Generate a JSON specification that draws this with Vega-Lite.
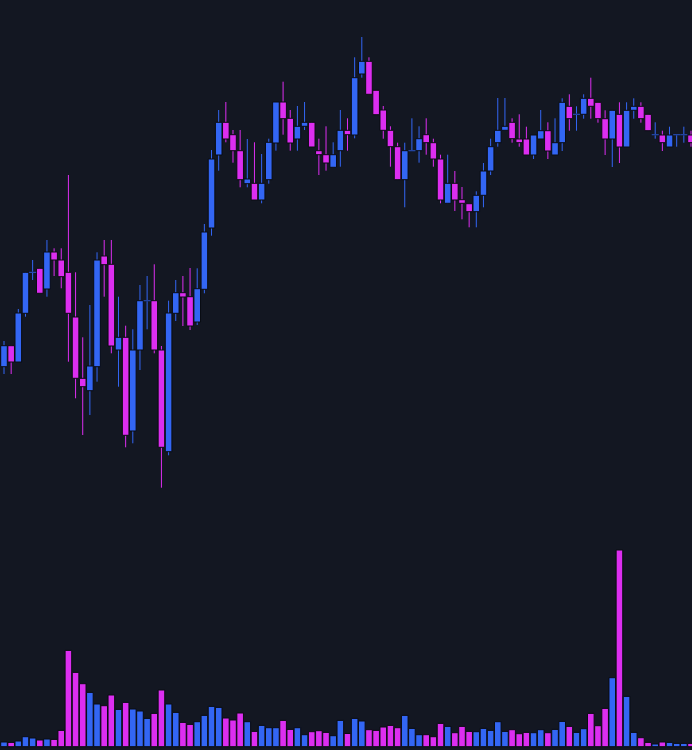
{
  "$schema": "https://vega.github.io/schema/vega-lite/v6.json",
  "width": 692,
  "height": 750,
  "padding": 0,
  "autosize": {"type": "none"},
  "background": "#131722",
  "config": {"view": {"stroke": null}},
  "data": {"values": [
    {"i":0,"o":63.33,"h":65.9,"l":62.6,"c":65.43,"v":235},
    {"i":1,"o":65.43,"h":65.43,"l":62.6,"c":63.8,"v":215},
    {"i":2,"o":63.8,"h":69.1,"l":63.8,"c":68.7,"v":285},
    {"i":3,"o":68.67,"h":72.8,"l":68.33,"c":72.77,"v":500},
    {"i":4,"o":72.77,"h":74,"l":72,"c":72.77,"v":435},
    {"i":5,"o":73.17,"h":73.2,"l":70.67,"c":70.67,"v":335},
    {"i":6,"o":71.1,"h":76,"l":70.33,"c":74.8,"v":385},
    {"i":7,"o":74.8,"h":75.17,"l":72.4,"c":74,"v":365},
    {"i":8,"o":74,"h":75.17,"l":71.17,"c":72.33,"v":815},
    {"i":9,"o":72.77,"h":82.5,"l":63.83,"c":68.67,"v":4815},
    {"i":10,"o":68.3,"h":72.77,"l":60.17,"c":62.17,"v":3715},
    {"i":11,"o":62.17,"h":66.27,"l":56.5,"c":61.33,"v":3150},
    {"i":12,"o":60.93,"h":69.5,"l":58.5,"c":63.4,"v":2715},
    {"i":13,"o":63.33,"h":74.77,"l":61.83,"c":74,"v":2135},
    {"i":14,"o":74.4,"h":76,"l":70.33,"c":73.53,"v":2050},
    {"i":15,"o":73.57,"h":76,"l":64.67,"c":65.4,"v":2585},
    {"i":16,"o":65,"h":70.33,"l":61.33,"c":66.27,"v":1865},
    {"i":17,"o":66.27,"h":67.43,"l":55.27,"c":56.47,"v":2215},
    {"i":18,"o":56.9,"h":67.07,"l":55.67,"c":65,"v":1885},
    {"i":19,"o":65,"h":71.5,"l":63,"c":69.93,"v":1785},
    {"i":20,"o":69.93,"h":72.4,"l":67.07,"c":69.93,"v":1415},
    {"i":21,"o":69.93,"h":73.57,"l":64.67,"c":65,"v":1665},
    {"i":22,"o":65,"h":65.4,"l":51.23,"c":55.27,"v":2835},
    {"i":23,"o":54.83,"h":69.93,"l":54.47,"c":68.7,"v":2135},
    {"i":24,"o":68.67,"h":72,"l":67.9,"c":70.73,"v":1715},
    {"i":25,"o":70.73,"h":72.4,"l":67.4,"c":70.3,"v":1215},
    {"i":26,"o":70.33,"h":73.2,"l":67,"c":67.4,"v":1115},
    {"i":27,"o":67.8,"h":73.17,"l":67.5,"c":71.13,"v":1250},
    {"i":28,"o":71.07,"h":77.6,"l":70.67,"c":76.8,"v":1565},
    {"i":29,"o":77.2,"h":85,"l":76.43,"c":84.1,"v":2015},
    {"i":30,"o":84.5,"h":89,"l":82.93,"c":87.77,"v":1965},
    {"i":31,"o":87.77,"h":89.8,"l":85.77,"c":86.1,"v":1435},
    {"i":32,"o":86.53,"h":87,"l":83.73,"c":84.93,"v":1335},
    {"i":33,"o":84.93,"h":87,"l":81.27,"c":82.03,"v":1685},
    {"i":34,"o":81.63,"h":86.1,"l":81.27,"c":82.1,"v":1250},
    {"i":35,"o":81.67,"h":85.77,"l":80,"c":80,"v":765},
    {"i":36,"o":80,"h":84.6,"l":79.67,"c":81.67,"v":1065},
    {"i":37,"o":82.03,"h":86.13,"l":81.63,"c":85.77,"v":950},
    {"i":38,"o":85.7,"h":89.8,"l":84.93,"c":89.8,"v":950},
    {"i":39,"o":89.8,"h":91.83,"l":86.53,"c":88.13,"v":1315},
    {"i":40,"o":88.17,"h":89,"l":84.93,"c":85.7,"v":865},
    {"i":41,"o":86.1,"h":89.4,"l":84.93,"c":87.37,"v":950},
    {"i":42,"o":87.37,"h":89.8,"l":87,"c":87.77,"v":600},
    {"i":43,"o":87.77,"h":87.77,"l":85.3,"c":85.3,"v":750},
    {"i":44,"o":84.93,"h":86.13,"l":82.5,"c":84.53,"v":800},
    {"i":45,"o":84.53,"h":87.37,"l":82.93,"c":83.7,"v":715},
    {"i":46,"o":83.27,"h":85.77,"l":83.27,"c":84.53,"v":550},
    {"i":47,"o":84.93,"h":89,"l":83.33,"c":86.97,"v":1315},
    {"i":48,"o":86.97,"h":88.17,"l":84.93,"c":86.53,"v":660},
    {"i":49,"o":86.5,"h":94.27,"l":86.17,"c":92.23,"v":1415},
    {"i":50,"o":92.6,"h":96.3,"l":92.23,"c":93.87,"v":1285},
    {"i":51,"o":93.87,"h":94.27,"l":90.57,"c":90.57,"v":850},
    {"i":52,"o":90.97,"h":90.97,"l":88.53,"c":88.53,"v":815},
    {"i":53,"o":89,"h":89.4,"l":86.13,"c":86.97,"v":985},
    {"i":54,"o":86.97,"h":87.37,"l":83.33,"c":85.33,"v":1065},
    {"i":55,"o":85.33,"h":85.73,"l":82.03,"c":82.03,"v":950},
    {"i":56,"o":82.03,"h":85.73,"l":79.27,"c":84.93,"v":1565},
    {"i":57,"o":84.93,"h":88.17,"l":84.93,"c":84.93,"v":915},
    {"i":58,"o":84.93,"h":87.37,"l":83.73,"c":86.13,"v":600},
    {"i":59,"o":86.53,"h":88.17,"l":84.53,"c":85.73,"v":600},
    {"i":60,"o":85.73,"h":86.13,"l":83.33,"c":84.1,"v":500},
    {"i":61,"o":84.1,"h":84.53,"l":79.67,"c":80,"v":1165},
    {"i":62,"o":79.67,"h":84.53,"l":79.67,"c":81.67,"v":1015},
    {"i":63,"o":81.67,"h":82.9,"l":78.9,"c":80,"v":700},
    {"i":64,"o":80.03,"h":81.3,"l":78.07,"c":79.67,"v":1015},
    {"i":65,"o":79.63,"h":79.63,"l":77.27,"c":78.83,"v":765},
    {"i":66,"o":78.83,"h":80.87,"l":77.27,"c":80.47,"v":750},
    {"i":67,"o":80.47,"h":83.7,"l":79.27,"c":82.9,"v":915},
    {"i":68,"o":82.9,"h":86.13,"l":82.5,"c":85.33,"v":815},
    {"i":69,"o":85.73,"h":90.2,"l":85.33,"c":86.97,"v":1250},
    {"i":70,"o":86.97,"h":90.2,"l":86.97,"c":87.37,"v":765},
    {"i":71,"o":87.77,"h":88.17,"l":85.73,"c":86.13,"v":850},
    {"i":72,"o":86.1,"h":88.57,"l":85.33,"c":85.73,"v":650},
    {"i":73,"o":86.1,"h":87.33,"l":84.5,"c":84.5,"v":715},
    {"i":74,"o":84.5,"h":86.5,"l":84.1,"c":86.5,"v":700},
    {"i":75,"o":86.1,"h":89,"l":86.1,"c":86.93,"v":850},
    {"i":76,"o":86.93,"h":87.77,"l":84.1,"c":84.9,"v":700},
    {"i":77,"o":84.5,"h":88.17,"l":84.5,"c":85.73,"v":865},
    {"i":78,"o":85.73,"h":90.17,"l":84.9,"c":89.77,"v":1265},
    {"i":79,"o":89.37,"h":90.57,"l":86.93,"c":88.13,"v":1015},
    {"i":80,"o":88.57,"h":89.37,"l":86.93,"c":88.57,"v":715},
    {"i":81,"o":88.57,"h":90.57,"l":88.13,"c":90.17,"v":900},
    {"i":82,"o":90.17,"h":92.23,"l":88.13,"c":89.37,"v":1665},
    {"i":83,"o":89.77,"h":89.77,"l":87.73,"c":88.13,"v":1050},
    {"i":84,"o":88.13,"h":88.97,"l":84.5,"c":86.1,"v":1915},
    {"i":85,"o":86.1,"h":88.97,"l":83.3,"c":88.97,"v":3450},
    {"i":86,"o":88.57,"h":89.77,"l":83.7,"c":85.3,"v":9835},
    {"i":87,"o":85.3,"h":89.77,"l":85.3,"c":88.97,"v":2515},
    {"i":88,"o":88.97,"h":90.17,"l":88.13,"c":89.37,"v":715},
    {"i":89,"o":89.37,"h":89.77,"l":87.73,"c":88.13,"v":450},
    {"i":90,"o":88.57,"h":88.57,"l":86.93,"c":86.93,"v":215},
    {"i":91,"o":86.53,"h":87.77,"l":86.13,"c":86.53,"v":135},
    {"i":92,"o":86.5,"h":86.93,"l":84.9,"c":85.73,"v":235},
    {"i":93,"o":85.3,"h":87.33,"l":85.3,"c":86.5,"v":215},
    {"i":94,"o":86.53,"h":86.53,"l":85.33,"c":86.53,"v":165},
    {"i":95,"o":86.53,"h":87.33,"l":85.73,"c":86.53,"v":165},
    {"i":96,"o":86.5,"h":86.93,"l":85.33,"c":85.73,"v":165}
  ]},
  "encoding": {
    "x": {"field": "i", "type": "quantitative", "axis": null,
          "scale": {"domain": [-0.559, 96.14], "nice": false, "zero": false, "padding": 0}},
    "color": {
      "condition": {"test": "datum.c >= datum.o", "value": "#3366F4"},
      "value": "#DC2EF0"
    }
  },
  "layer": [
    {
      "encoding": {
        "y": {"type": "quantitative", "axis": null,
              "scale": {"domain": [25, 100], "nice": false, "zero": false, "padding": 0}}
      },
      "layer": [
        {
          "mark": {"type": "rule", "strokeWidth": 1},
          "encoding": {
            "y": {"field": "l", "type": "quantitative", "axis": null},
            "y2": {"field": "h"}
          }
        },
        {
          "mark": {"type": "bar", "width": 6.6, "stroke": "#0a0c12", "strokeWidth": 1},
          "encoding": {
            "y": {"field": "o", "type": "quantitative", "axis": null},
            "y2": {"field": "c"},
            "fill": {
              "condition": {"test": "datum.c >= datum.o", "value": "#3366F4"},
              "value": "#DC2EF0"
            }
          }
        },
        {
          "transform": [{"filter": "datum.o == datum.c"}],
          "mark": {"type": "tick", "orient": "horizontal", "size": 7, "thickness": 1.2},
          "encoding": {
            "y": {"field": "c", "type": "quantitative", "axis": null}
          }
        }
      ]
    },
    {
      "mark": {"type": "bar", "width": 6.6, "stroke": "#0a0c12", "strokeWidth": 1},
      "encoding": {
        "y": {"field": "v", "type": "quantitative", "axis": null,
              "scale": {"domain": [-165, 37335], "nice": false, "zero": false, "padding": 0}},
        "fill": {
          "condition": {"test": "datum.c >= datum.o", "value": "#3366F4"},
          "value": "#DC2EF0"
        }
      }
    }
  ],
  "resolve": {"scale": {"y": "independent"}}
}
